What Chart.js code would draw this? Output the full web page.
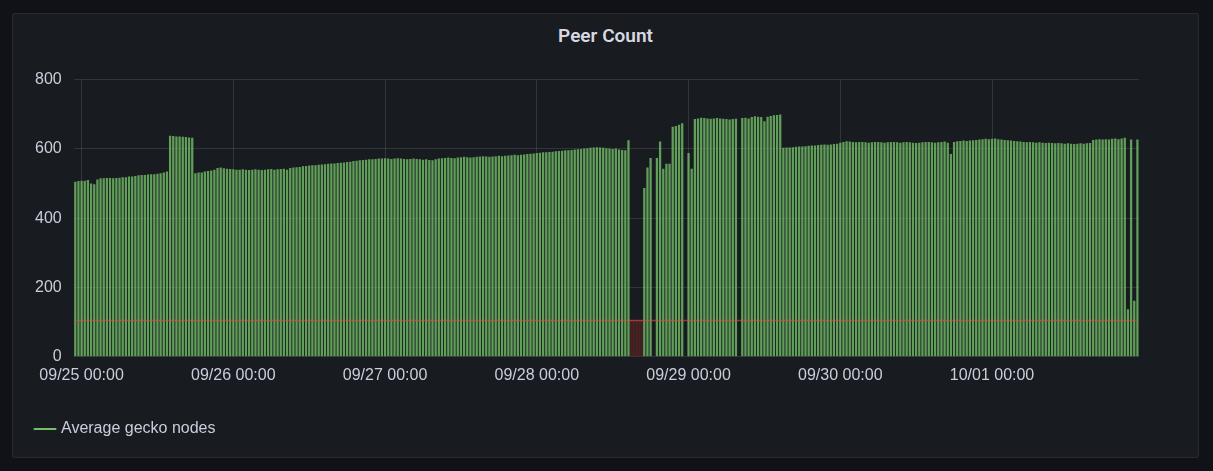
<!DOCTYPE html>
<html><head><meta charset="utf-8">
<script src="https://cdn.jsdelivr.net/npm/chart.js@4"></script>
<style>
html,body{margin:0;background:#111217;width:1213px;height:471px;overflow:hidden;font-family:Roboto,sans-serif}
#panel{position:absolute;left:12px;top:13px;width:1185px;height:443px;background:#181b1f;border:1px solid rgba(204,204,220,0.09);border-radius:3px}
#title{position:absolute;left:0;right:0;top:10px;text-align:center;color:#d8d8e2;font-size:19px;font-weight:600}
#wrap{position:absolute;left:0;top:44px;width:1185px;height:389px}
</style></head><body>
<div id="panel"><div id="title">Peer Count</div><div id="wrap"><canvas id="c"></canvas></div></div>
<script>
const startLabel = [9, 24, 23, 0]; // month, day, hour, minute of first sample
const stepMinutes = 30;
const seriesName = "Average gecko nodes";
const threshold = 105;
const yTicks = [0, 200, 400, 600, 800];
const values = [
505,507,508,508,510,500,498,512,515,515,516,516,515,516,517,518,518,520,
520,522,524,525,525,526,527,527,528,530,532,535,
638,637,636,636,635,634,633,632,
530,532,532,535,536,538,540,545,546,544,
543,542,541,540,540,541,540,539,540,541,540,539,540,541,542,540,541,542,543,540,545,546,547,548,550,551,552,553,553,554,555,556,557,558,558,559,560,561,562,563,565,566,567,568,569,570,570,571,
572,572,573,572,571,572,573,572,571,570,571,572,571,570,569,570,568,567,570,572,573,574,575,574,573,575,576,577,576,575,576,577,578,579,578,577,578,579,580,579,580,581,582,583,582,583,584,585,
586,587,588,589,590,590,591,592,593,594,595,596,596,597,598,599,600,
601,602,603,604,605,604,603,602,601,600,601,598,597,596,625,
null,null,null,null,487,546,574,null,574,621,543,557,557,664,666,670,674,
null,588,543,686,688,690,689,688,687,688,689,688,687,686,685,686,687,null,
689,690,688,692,694,693,692,680,693,695,697,698,699,603,
604,604,605,606,607,607,608,609,610,610,611,612,613,612,613,614,615,
618,620,622,621,620,619,620,620,619,618,619,620,620,619,618,619,620,620,619,618,619,620,619,618,617,618,619,620,620,619,618,619,620,621,618,585,620,622,623,624,623,624,625,626,627,628,629,628,
629,630,628,627,626,625,624,623,622,621,620,619,620,619,618,619,618,617,618,617,616,617,616,615,616,615,614,615,616,615,616,617,626,627,628,627,628,627,629,630,628,630,632,137,627,162,627
];
const labels = [];
{
  let d = new Date(2020, startLabel[0]-1, startLabel[1], startLabel[2], startLabel[3]);
  for (let i = 0; i < values.length; i++) {
    const p = n => String(n).padStart(2,'0');
    labels.push(p(d.getMonth()+1)+'/'+p(d.getDate())+' '+p(d.getHours())+':'+p(d.getMinutes()));
    d = new Date(d.getTime() + stepMinutes*60000);
  }
}
const alertFill = values.map((v,i) => (v === null && (values[i-1] === null || values[i+1] === null)) ? threshold : null);
const thrLine = values.map(() => threshold);
const isDay = l => l.endsWith('00:00');
new Chart(document.getElementById('c'), {
  data: { labels, datasets: [
    { type:'bar', label: seriesName, data: values, backgroundColor:'rgba(115,191,105,0.8)', borderWidth:0, barPercentage:0.72, categoryPercentage:1, grouped:false, order:2 },
    { type:'bar', label:'alert', data: alertFill, backgroundColor:'rgba(110,40,40,0.45)', borderWidth:0, barPercentage:1, categoryPercentage:1, grouped:false, order:3 },
    { type:'line', label:'threshold', data: thrLine, borderColor:'rgba(224,80,60,0.6)', borderWidth:1.5, pointRadius:0, order:1 }
  ]},
  options: {
    responsive:true, maintainAspectRatio:false, animation:false,
    layout:{padding:{left:10,right:59,top:0,bottom:0}},
    scales:{
      x:{ offset:true, afterFit: ax => { ax.height += 13; },
          ticks:{ autoSkip:false, maxRotation:0, color:'#ccccdc', font:{size:16}, padding:9,
            callback:(v,i)=> isDay(labels[i]) ? labels[i] : '' },
          grid:{ offset:false, drawTicks:false, color:c => isDay(labels[c.index]||'') ? 'rgba(204,204,220,0.15)' : 'transparent' },
          border:{display:false} },
      y:{ min:0, max:800, afterBuildTicks: ax => { ax.ticks = yTicks.map(v=>({value:v})); },
          ticks:{ color:'#ccccdc', font:{size:16}, padding:12 },
          grid:{ color:'rgba(204,204,220,0.15)', drawTicks:false }, border:{display:false} }
    },
    plugins:{
      legend:{ position:'bottom', align:'start', labels:{ color:'#ccccdc', font:{size:16}, usePointStyle:true, pointStyle:'line', boxWidth:16, padding:14,
        generateLabels: ch => [{ text: seriesName, strokeStyle:'#73bf69', fillStyle:'#73bf69', lineWidth:2, pointStyle:'line', datasetIndex:0, fontColor:'#ccccdc' }] } },
      tooltip:{enabled:false}
    }
  }
});
</script></body></html>
